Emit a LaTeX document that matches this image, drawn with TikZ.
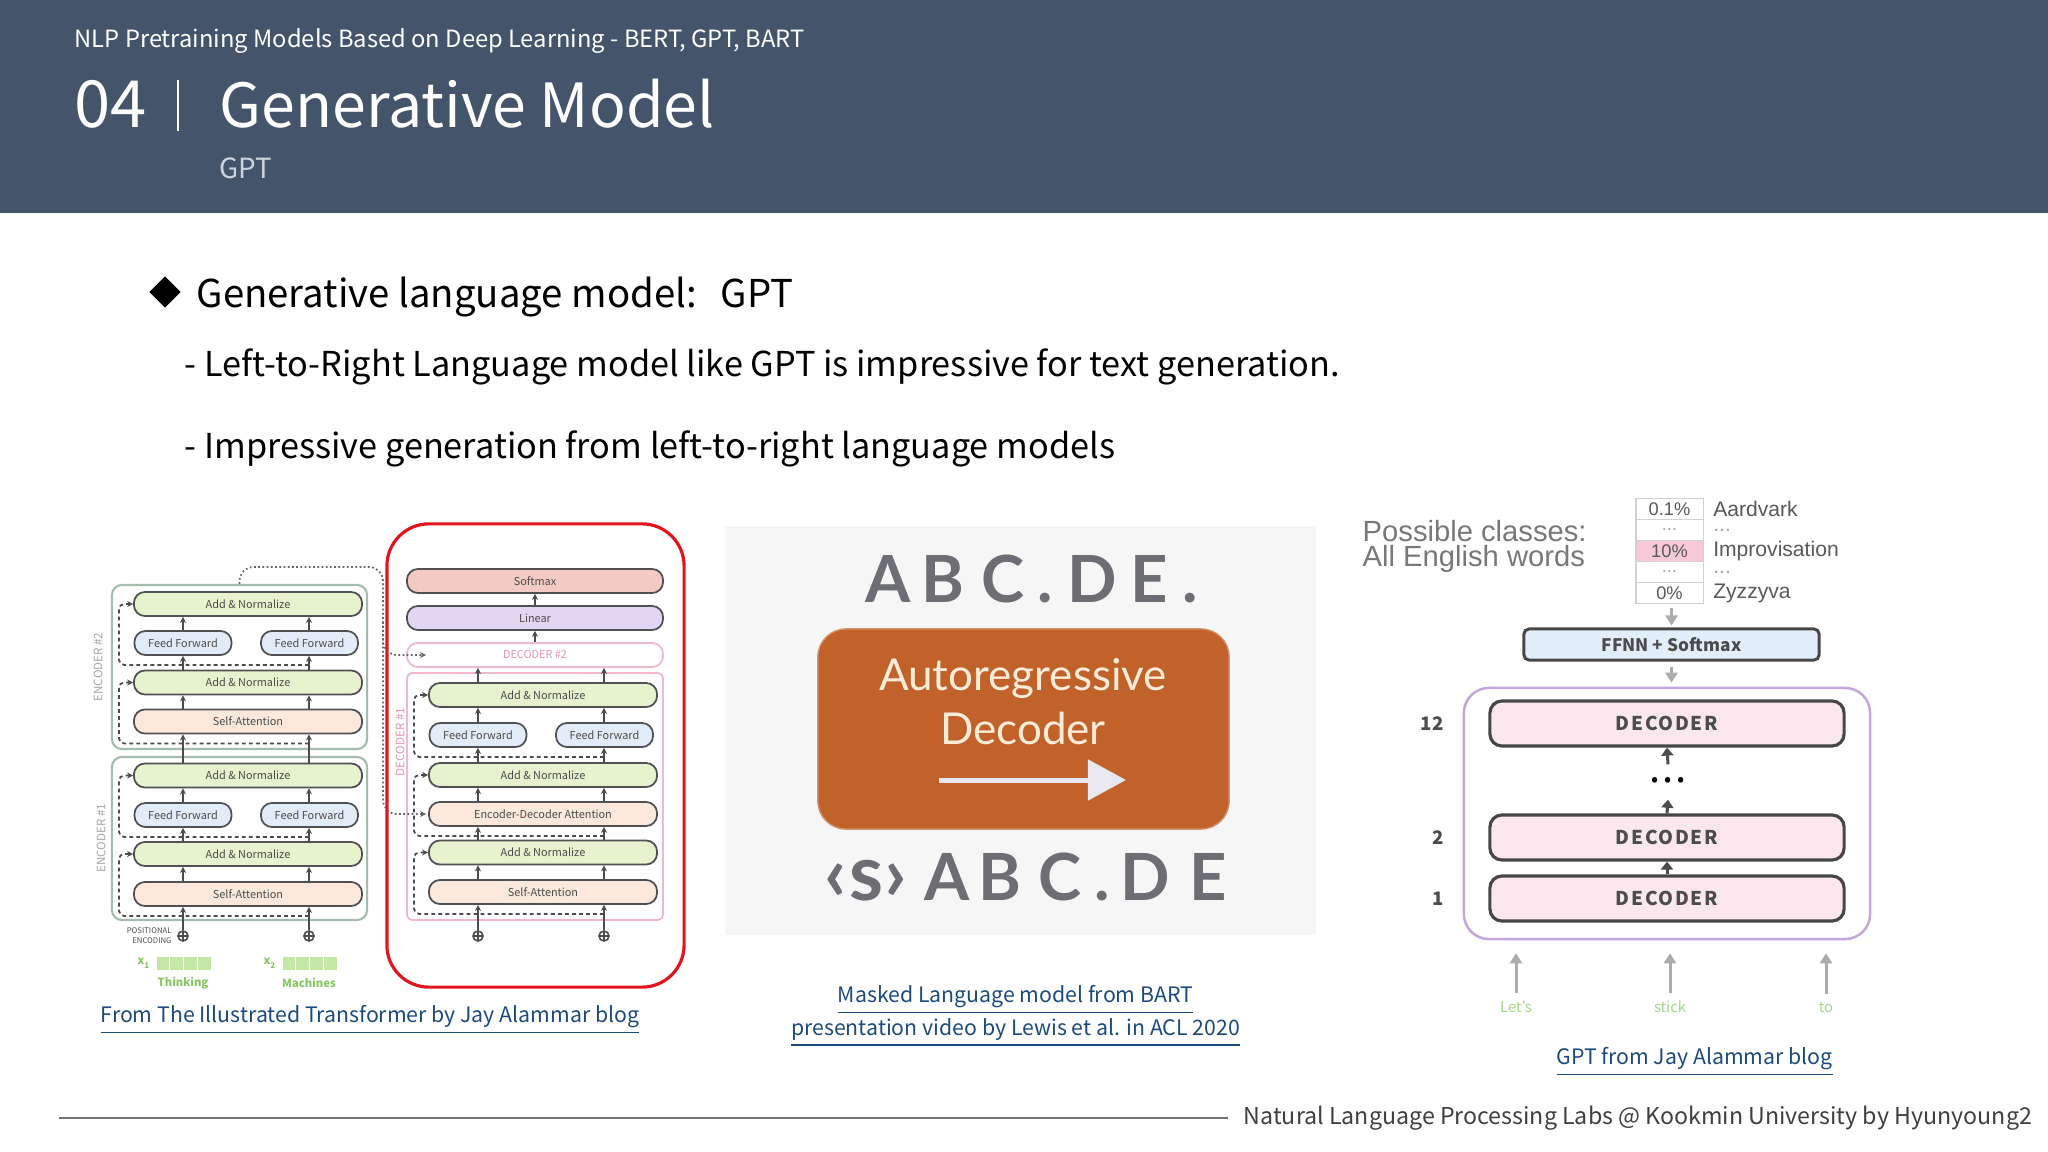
\documentclass[tikz,border=0pt]{standalone}
\usepackage{fontspec}
\setmainfont{Noto Sans CJK KR}
\newfontfamily\arialfont{Liberation Sans}
\newfontfamily\gillfont{Lato}
\usetikzlibrary{positioning, arrows.meta, shapes.geometric, calc}

\newcommand{\ellip}{\raisebox{-0.5pt}{...}}
\definecolor{headbg}{RGB}{68,84,106}
\definecolor{subgray}{RGB}{205,211,220}
\definecolor{linkblue}{RGB}{30,75,125}
\definecolor{blockline}{RGB}{80,80,85}
\definecolor{addnorm}{RGB}{231,243,206}
\definecolor{ffwd}{RGB}{226,236,249}
\definecolor{selfatt}{RGB}{252,233,220}
\definecolor{encline}{RGB}{165,188,172}
\definecolor{decline}{RGB}{241,186,201}
\definecolor{dectext}{RGB}{226,150,172}
\definecolor{smfill}{RGB}{243,202,196}
\definecolor{linfill}{RGB}{226,214,242}
\definecolor{tokgreen}{RGB}{135,200,100}
\definecolor{cellgreen}{RGB}{196,231,168}
\definecolor{redframe}{RGB}{226,20,30}
\definecolor{panelgray}{RGB}{246,246,247}
\definecolor{ardec}{RGB}{192,98,42}
\definecolor{artext}{RGB}{252,236,215}
\definecolor{arrowwhite}{RGB}{232,232,238}
\definecolor{abcgray}{RGB}{108,110,116}
\definecolor{textgray}{RGB}{120,120,122}
\definecolor{gptpurple}{RGB}{196,166,222}
\definecolor{decpink}{RGB}{252,231,239}
\definecolor{ffnnblue}{RGB}{226,238,251}
\definecolor{probpink}{RGB}{246,200,216}
\definecolor{arrgray}{RGB}{172,172,174}
\definecolor{wordgreen}{RGB}{165,215,140}

\begin{document}
\begin{tikzpicture}[x=0.01cm, y=-0.01cm, >=Stealth,
    tblock/.style={draw=blockline, line width=0.5pt, rounded corners=0.11cm, minimum height=0.24cm,
      inner sep=0, text=black!70, font=\fontsize{3.1}{3.5}\selectfont},
    addbox/.style={tblock, fill=addnorm, minimum width=2.28cm},
    ffbox/.style={tblock, fill=ffwd, minimum width=0.97cm},
    attbox/.style={tblock, fill=selfatt, minimum width=2.28cm},
    stack/.style={rounded corners=0.1cm, line width=0.6pt, inner sep=0},
    tarr/.style={->, draw=black!70, line width=0.45pt, >={Stealth[length=0.06cm, width=0.06cm]}},
    resid/.style={->, draw=black!70, line width=0.5pt, dash pattern=on 1.1pt off 0.9pt,
      rounded corners=0.05cm, >={Stealth[length=0.06cm, width=0.06cm]}},
    dotlink/.style={->, draw=black!60, line width=0.5pt, dash pattern=on 0.5pt off 0.7pt,
      rounded corners=0.14cm, >={Stealth[length=0.06cm, width=0.06cm]}},
    plusnode/.style={circle, draw=black!70, line width=0.45pt, minimum size=0.1cm, inner sep=0,
      path picture={\draw[black!70, line width=0.4pt]
        (path picture bounding box.north) -- (path picture bounding box.south)
        (path picture bounding box.west) -- (path picture bounding box.east);}},
    vcell/.style={fill=cellgreen, draw=white, line width=0.3pt, minimum width=0.1375cm,
      minimum height=0.15cm, inner sep=0},
    tok/.style={text=tokgreen, inner sep=0, font=\bfseries\fontsize{3.2}{3.6}\selectfont},
    sidelab/.style={rotate=90, inner sep=0, font=\fontsize{3.3}{3.6}\selectfont},
    abcletter/.style={anchor=base, inner sep=0, text=abcgray, font=\gillfont\bfseries\fontsize{18.5}{19}\selectfont},
    gdec/.style={draw=black!72, fill=decpink, line width=0.9pt, rounded corners=0.12cm,
      minimum width=3.54cm, minimum height=0.45cm, inner sep=0, text=black!70,
      font=\bfseries\fontsize{5.4}{6}\selectfont\addfontfeatures{LetterSpace=9}},
    garr/.style={->, draw=arrgray, line width=0.03cm, >={Triangle[length=0.1cm, width=0.12cm]}},
    darr/.style={->, draw=black!70, line width=0.03cm, >={Triangle[length=0.08cm, width=0.12cm]}},
    probcell/.style={draw=black!18, line width=0.3pt, minimum width=0.67cm, minimum height=0.21cm,
      inner sep=0, text=black!65, font=\arialfont\fontsize{5.2}{5.2}\selectfont},
    wordlab/.style={inner sep=0, text=textgray, font=\arialfont\fontsize{6}{6}\selectfont},
    gnum/.style={inner sep=0, text=black!70, font=\bfseries\fontsize{5.3}{6}\selectfont},
    gword/.style={inner sep=0, text=wordgreen, font=\fontsize{4.2}{5}\selectfont},
    caption/.style={inner sep=0, text=linkblue, align=center, font=\fontsize{6.05}{7.4}\selectfont}
  ]
  \useasboundingbox (0,0) rectangle (2048,1152);
  \fill[white] (0,0) rectangle (2048,1152);

  % title band
  \fill[headbg] (0,0) rectangle (2048,213);
  \node[anchor=base west, inner sep=0, text=white, font=\fontsize{6.75}{8}\selectfont] (course) at (74,48)
    {NLP Pretraining Models Based on Deep Learning - BERT, GPT, BART};
  \node[anchor=base west, inner sep=0, text=white, font=\fontsize{18.5}{20}\selectfont] (secnum) at (74,128) {04};
  \draw[white, line width=0.5pt] (178,80) -- (178,131);
  \node[anchor=base west, inner sep=0, text=white, font=\fontsize{17.3}{20}\selectfont] (title) at (219,128) {Generative Model};
  \node[anchor=base west, inner sep=0, text=subgray, font=\fontsize{7.9}{9}\selectfont] (subtitle) at (219,179) {GPT};

  % bullet text
  \node[diamond, fill=black, inner sep=0, minimum size=0.32cm] (bul) at (165,292) {};
  \node[anchor=base west, inner sep=0, font=\fontsize{10.9}{12}\selectfont] (head) at (196,308)
    {Generative language model:\hspace{0.24cm}GPT};
  \node[anchor=base west, inner sep=0, font=\fontsize{9.75}{11}\selectfont] (line1) at (184,377)
    {- Left-to-Right Language model like GPT is impressive for text generation.};
  \node[anchor=base west, inner sep=0, font=\fontsize{9.75}{11}\selectfont] (line2) at (184,459)
    {- Impressive generation from left-to-right language models};

  % ---- transformer (left) ----
  \node[stack, draw=encline, minimum width=2.55cm, minimum height=1.64cm] (enc2) at (239.5,667) {};
  \node[stack, draw=encline, minimum width=2.55cm, minimum height=1.63cm] (enc1) at (239.5,838.5) {};
  \node[sidelab, text=black!35] (enc2lab) at (98,667) {ENCODER \#2};
  \node[sidelab, text=black!35] (enc1lab) at (101,838) {ENCODER \#1};

  \node[addbox] (en2an2) at (248,604) {Add \& Normalize};
  \node[ffbox] (en2ffa) at (183,643) {Feed Forward};
  \node[ffbox] (en2ffb) at (309.5,643) {Feed Forward};
  \node[addbox] (en2an1) at (248,682.5) {Add \& Normalize};
  \node[attbox] (en2sa) at (248,721.5) {Self-Attention};
  \node[addbox] (en1an2) at (248,775.5) {Add \& Normalize};
  \node[ffbox] (en1ffa) at (183,815) {Feed Forward};
  \node[ffbox] (en1ffb) at (309.5,815) {Feed Forward};
  \node[addbox] (en1an1) at (248,854) {Add \& Normalize};
  \node[attbox] (en1sa) at (248,894) {Self-Attention};

  \node[plusnode] (ep1) at (183,936) {};
  \node[plusnode] (ep2) at (309,936) {};
  \node[inner sep=0, align=right, text=black!70, font=\fontsize{2.2}{2.8}\selectfont,
    left=0.05cm of ep1] (posenc) {POSITIONAL\\ENCODING};

  \foreach \c in {ep1,ep2} {
    \draw[tarr] (\c) -- (\c |- en1sa.south);
    \foreach \a/\b in {en1sa/en1an1, en1an1/en1ffa, en1ffa/en1an2, en1an2/en2sa,
                       en2sa/en2an1, en2an1/en2ffa, en2ffa/en2an2}
      \draw[tarr] (\a.north -| \c) -- (\b.south -| \c);
  }
  \foreach \a/\b in {en1sa/en1an1, en1ffa/en1an2, en2sa/en2an1, en2ffa/en2an2}
    \draw[resid] ($(\a.south -| ep2)+(0,9)$) -| ([xshift=-0.14cm]\b.west) -- (\b.west);

  % input vectors
  \foreach \i in {0,1,2,3} {
    \node[vcell] (xa\i) at (163+\i*13.75,963.5) {};
    \node[vcell] (xb\i) at (289+\i*13.75,963.5) {};
  }
  \node[tok, left=0.04cm of xa0] (xalab) {x\textsubscript{1}};
  \node[tok, left=0.04cm of xb0] (xblab) {x\textsubscript{2}};
  \node[tok] (thinking) at (183,983) {Thinking};
  \node[tok] (machines) at (309,983) {Machines};

  % decoder side
  \node[draw=redframe, line width=0.9pt, rounded corners=0.42cm, minimum width=2.97cm,
    minimum height=4.63cm, inner sep=0] (redbox) at (535.5,755.5) {};
  \node[tblock, fill=smfill, minimum width=2.56cm] (sm) at (535,581) {Softmax};
  \node[tblock, fill=linfill, minimum width=2.56cm] (lin) at (535,618) {Linear};
  \node[tblock, draw=decline, fill=white, minimum width=2.56cm, text=dectext] (dec2) at (535,655) {DECODER \#2};
  \node[stack, draw=decline, line width=0.5pt, rounded corners=0.06cm, minimum width=2.56cm,
    minimum height=2.47cm] (dec1) at (535,796.5) {};
  \node[sidelab, text=dectext] (dec1lab) at (400,742) {DECODER \#1};

  \node[addbox] (dean3) at (543,695) {Add \& Normalize};
  \node[ffbox] (deffa) at (478,735) {Feed Forward};
  \node[ffbox] (deffb) at (604.5,735) {Feed Forward};
  \node[addbox] (dean2) at (543,775) {Add \& Normalize};
  \node[attbox] (deeda) at (543,814) {Encoder-Decoder Attention};
  \node[addbox] (dean1) at (543,852.5) {Add \& Normalize};
  \node[attbox] (desa) at (543,892) {Self-Attention};

  \node[plusnode] (dp1) at (478,936) {};
  \node[plusnode] (dp2) at (604,936) {};

  \foreach \c in {dp1,dp2} {
    \draw[tarr] (\c) -- (\c |- desa.south);
    \foreach \a/\b in {desa/dean1, dean1/deeda, deeda/dean2, dean2/deffa, deffa/dean3, dean3/dec2}
      \draw[tarr] (\a.north -| \c) -- (\b.south -| \c);
  }
  \draw[tarr] (dec2) -- (lin);
  \draw[tarr] (lin) -- (sm);
  \foreach \a/\b in {desa/dean1, deeda/dean2, deffa/dean3}
    \draw[resid] ($(\a.south -| dp2)+(0,9)$) -| ([xshift=-0.14cm]\b.west) -- (\b.west);

  % encoder output to decoders
  \coordinate (lnk) at (383,567);
  \coordinate (tap) at (383,622);
  \draw[dotlink] (enc2.north) |- (lnk) |- ([xshift=-0.02cm]deeda.west);
  \draw[dotlink] (tap) |- ([xshift=0.2cm]dec2.west);

  % ---- BART autoregressive decoder (middle) ----
  \node[fill=panelgray, minimum width=5.91cm, minimum height=4.09cm, inner sep=0] (panel) at (1020.5,730.5) {};
  \foreach \ch/\xx [count=\i] in {A/888, B/943, C/1003, {.}/1045, D/1092, E/1149, {.}/1190}
    \node[abcletter] (top\i) at (\xx,603) {\ch};
  \foreach \ch/\xx [count=\i] in {{\fontsize{22}{22}\selectfont\guilsinglleft\kern0.02em s\kern0.02em\guilsinglright}/866,
                                  A/947, B/1000, C/1060, {.}/1102, D/1145, E/1208}
    \node[abcletter] (bot\i) at (\xx,900) {\ch};
  \node[fill=ardec, draw=ardec!70!white, line width=0.4pt, rounded corners=0.28cm, minimum width=4.11cm,
    minimum height=2cm, inner sep=0] (ardbox) at (1023.5,729) {};
  \node[anchor=base, inner sep=0, text=artext, font=\gillfont\fontsize{12.5}{13}\selectfont] (artop) at (1023,690) {Autoregressive};
  \node[anchor=base, inner sep=0, text=artext, font=\gillfont\fontsize{12.5}{13}\selectfont] (arbot) at (1023,744) {Decoder};
  \coordinate (ars) at (939,780);
  \coordinate (are) at (1126,780);
  \draw[draw=arrowwhite, line width=0.05cm, -{Triangle[length=0.38cm, width=0.4cm]}] (ars) -- (are);

  % ---- GPT stack (right) ----
  \node[anchor=west, align=left, inner sep=0, text=textgray, font=\arialfont\fontsize{8.3}{7.1}\selectfont]
    (classes) at (1362,546) {Possible classes:\\All English words};
  \foreach \p/\w/\f/\t [count=\i] in {0.1\%/Aardvark/white/black!65, \ellip/\ellip/white/black!35,
                                      10\%/Improvisation/probpink/black!65,
                                      \ellip/\ellip/white/black!35, 0\%/Zyzzyva/white/black!65} {
    \node[probcell, fill=\f, text=\t] (cell\i) at (1669.5,488+21*\i) {\p};
    \node[wordlab, text=\t, right=0.09cm of cell\i] (word\i) {\w};
  }
  \node[draw=black!72, fill=ffnnblue, line width=0.85pt, rounded corners=0.05cm, minimum width=2.95cm,
    minimum height=0.31cm, inner sep=0, text=black!70, font=\bfseries\fontsize{4.9}{5}\selectfont]
    (ffnn) at (1671.5,644.5) {FFNN + Softmax};
  \node[draw=gptpurple, line width=0.7pt, rounded corners=0.25cm, minimum width=4.06cm,
    minimum height=2.51cm, inner sep=0] (gptbox) at (1667,813.5) {};
  \draw[garr, shorten <=0.04cm, shorten >=0.02cm] (cell5.south -| ffnn) -- (ffnn.north);
  \draw[garr, shorten <=0.05cm, shorten >=0.04cm] (ffnn.south) -- (ffnn.south |- gptbox.north);

  \node[gdec] (gd12) at (1667,723.5) {DECODER};
  \node[gdec] (gd2) at (1667,837.5) {DECODER};
  \node[gdec] (gd1) at (1667,898.5) {DECODER};
  \node[inner sep=0, minimum height=0.34cm, font=\fontsize{6}{6}\selectfont] (gdots) at (1668,782)
    {\textbullet\hspace{0.06cm}\textbullet\hspace{0.06cm}\textbullet};
  \draw[darr] (gdots.north) -- (gd12.south);
  \draw[darr] (gd2.north) -- (gdots.south);
  \draw[darr] (gd1.north) -- (gd2.south);
  \node[gnum, left=0.44cm of gd12] (n12) {12};
  \node[gnum, left=0.44cm of gd2] (n2) {2};
  \node[gnum, left=0.44cm of gd1] (n1) {1};

  \node[gword] (in1) at (1516,1007) {Let's};
  \node[gword] (in2) at (1670,1007) {stick};
  \node[gword] (in3) at (1826,1007) {to};
  \foreach \w in {in1,in2,in3}
    \draw[garr, shorten <=0.07cm, shorten >=0.13cm] (\w.north) -- (\w.north |- gptbox.south);

  % captions
  \node[caption] (cap1) at (370,1020) {\underline{From The Illustrated Transformer by Jay Alammar blog}};
  \node[caption] (cap2) at (1015.5,1016)
    {\underline{Masked Language model from BART}\\\underline{presentation video by Lewis et al. in ACL 2020}};
  \node[caption] (cap3) at (1694.5,1062) {\underline{GPT from Jay Alammar blog}};

  % footer
  \node[anchor=west, inner sep=0, text=black!75, font=\fontsize{6.6}{8}\selectfont] (footer) at (1243,1118)
    {Natural Language Processing Labs @ Kookmin University by Hyunyoung2};
  \coordinate (rulestart) at (59,1118);
  \draw[black!55, line width=0.45pt] (rulestart) -- ([xshift=-0.15cm]footer.west);
\end{tikzpicture}
\end{document}
